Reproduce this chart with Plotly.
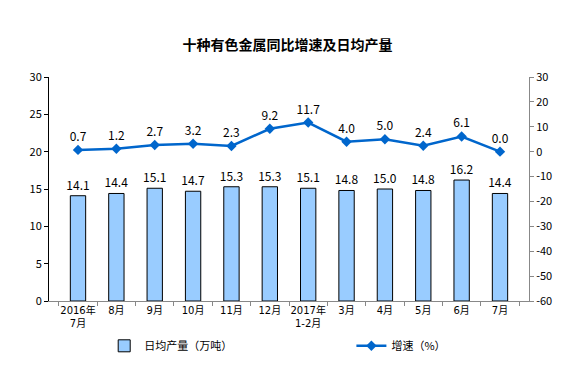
import plotly.graph_objects as go

categories = ["2016年<br>7月", "8月", "9月", "10月", "11月", "12月", "2017年<br>1-2月",
              "3月", "4月", "5月", "6月", "7月"]
output = [14.1, 14.4, 15.1, 14.7, 15.3, 15.3, 15.1, 14.8, 15.0, 14.8, 16.2, 14.4]
growth = [0.7, 1.2, 2.7, 3.2, 2.3, 9.2, 11.7, 4.0, 5.0, 2.4, 6.1, 0.0]
left_ticks = [0, 5, 10, 15, 20, 25, 30]
right_ticks = [-60, -50, -40, -30, -20, -10, 0, 10, 20, 30]

font = "Noto Sans CJK SC, sans-serif"
tick_font = "DejaVu Sans, Noto Sans CJK SC, sans-serif"

fig = go.Figure()
fig.add_trace(go.Bar(
    x=categories, y=output, name="日均产量（万吨）",
    marker=dict(color="#99CCFF", line=dict(color="black", width=1)),
    width=0.4,
    text=[f"{v:.1f}" for v in output], textposition="outside",
    textfont=dict(size=12, color="black", family=font),
    constraintext="none",
    cliponaxis=False,
    legend="legend",
))
fig.add_trace(go.Scatter(
    x=categories, y=growth, name="增速（%）", yaxis="y2",
    mode="lines+markers+text",
    line=dict(color="#0066CC", width=2.5),
    marker=dict(symbol="diamond", size=8, color="#0066CC"),
    text=[f"{v:.1f}" for v in growth], textposition="top center",
    textfont=dict(size=12, color="black", family=font),
    cliponaxis=False,
    legend="legend2",
))

fig.update_layout(
    width=559, height=370,
    margin=dict(l=41, r=38, t=69, b=77, autoexpand=False),
    paper_bgcolor="white", plot_bgcolor="white",
    font=dict(family=font, size=11, color="black"),
    title=dict(text="<b>十种有色金属同比增速及日均产量</b>", x=0.5, xanchor="center",
               y=0.9, yanchor="middle", font=dict(size=14, color="black", family=font)),
    xaxis=dict(showline=True, linecolor="#888888", linewidth=1,
               ticks="outside", tickson="boundaries", ticklen=4, tickcolor="#888888",
               tickangle=0, tickfont=dict(size=10, family=tick_font), showgrid=False),
    yaxis=dict(range=[0, 30], tickvals=left_ticks, ticktext=[str(v) for v in left_ticks],
               showline=True, linecolor="black", linewidth=1,
               ticks="outside", ticklen=4, tickcolor="black", showgrid=False, zeroline=False,
               tickfont=dict(size=11)),
    yaxis2=dict(range=[-60, 30], tickvals=right_ticks, ticktext=[str(v) for v in right_ticks],
                overlaying="y", side="right",
                showline=True, linecolor="#888888", linewidth=1,
                ticks="outside", ticklen=4, tickcolor="#888888", showgrid=False, zeroline=False,
                tickfont=dict(size=11)),
    showlegend=True,
    legend=dict(orientation="h", x=0.115, xanchor="left",
                y=-0.2, yanchor="middle",
                font=dict(size=11), bgcolor="rgba(0,0,0,0)"),
    legend2=dict(orientation="h", x=0.63, xanchor="left",
                 y=-0.2, yanchor="middle",
                 font=dict(size=11), bgcolor="rgba(0,0,0,0)"),
    bargap=0.6,
)

fig.write_html("out.html")
